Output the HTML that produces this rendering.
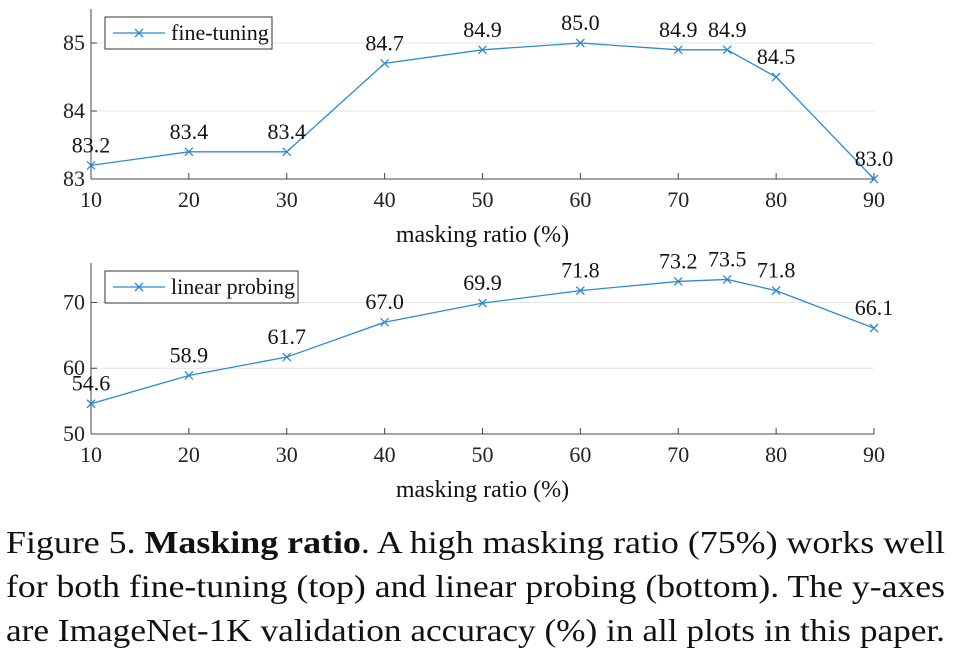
<!DOCTYPE html>
<html><head><meta charset="utf-8"><style>
body{margin:0;background:#fff}
svg, svg text{font-family:"Liberation Serif","Times New Roman",Times,serif}
</style></head><body>
<svg id="fig" width="953" height="652" viewBox="0 0 953 652" xmlns="http://www.w3.org/2000/svg" font-family="Liberation Serif, Times New Roman, serif">
<g id="top"></g>
<g id="bot"></g>
<g font-size="32" fill="#111">
<text x="6" y="553" textLength="939" lengthAdjust="spacingAndGlyphs">Figure 5. <tspan font-weight="bold">Masking ratio</tspan>. A high masking ratio (75%) works well</text>
<text x="6" y="597" textLength="939" lengthAdjust="spacingAndGlyphs">for both fine-tuning (top) and linear probing (bottom). The y-axes</text>
<text x="6" y="641" textLength="939" lengthAdjust="spacingAndGlyphs">are ImageNet-1K validation accuracy (%) in all plots in this paper.</text>
</g>
</svg>
<script>
const xRatios=[10,20,30,40,50,60,70,75,80,90];
const xTicks=[10,20,30,40,50,60,70,80,90];
const fineTuning=[83.2,83.4,83.4,84.7,84.9,85.0,84.9,84.9,84.5,83.0];
const fineTicks=[83,84,85];
const linearProbing=[54.6,58.9,61.7,67.0,69.9,71.8,73.2,73.5,71.8,66.1];
const linearTicks=[50,60,70];
const NS='http://www.w3.org/2000/svg';
const C='#2b8bd2';
function mk(p,t,a){const e=document.createElementNS(NS,t);for(const k in a)e.setAttribute(k,a[k]);p.appendChild(e);return e;}
function chart(g,vals,ticks,ymin,ymax,top,bot,label,lw){
  const L=91,R=874;
  const sx=v=>L+(v-10)/80*(R-L);
  const sy=v=>bot-(v-ymin)/(ymax-ymin)*(bot-top);
  ticks.forEach(t=>{
    const gl=mk(g,'line',{x1:L,x2:R,y1:sy(t),y2:sy(t),stroke:'#e3e3e3','stroke-width':1});
    
    
    mk(g,'line',{x1:L,x2:L+6,y1:sy(t),y2:sy(t),stroke:'#444'});
    const tx=mk(g,'text',{x:L-6,y:sy(t)+7,'text-anchor':'end','font-size':22,fill:'#222'});
    tx.textContent=t;
    
    
  });
  mk(g,'line',{x1:L,x2:L,y1:top,y2:bot,stroke:'#444'});
  mk(g,'line',{x1:L,x2:R,y1:bot,y2:bot,stroke:'#444'});
  xTicks.forEach(t=>{
    mk(g,'line',{x1:sx(t),x2:sx(t),y1:bot,y2:bot-6,stroke:'#444'});
    const tx=mk(g,'text',{x:sx(t),y:bot+28,'text-anchor':'middle','font-size':22,fill:'#222'});
    tx.textContent=t;
    
    
  });
  const xl=mk(g,'text',{x:(L+R)/2,y:bot+63,'text-anchor':'middle','font-size':24,fill:'#111'});
  xl.textContent='masking ratio (%)';
  
  
  const pl=mk(g,'polyline',{points:vals.map((v,i)=>sx(xRatios[i])+','+sy(v)).join(' '),fill:'none',stroke:C,'stroke-width':1.3});
  
  
  vals.forEach((v,i)=>{
    const x=sx(xRatios[i]),y=sy(v);
    const m=mk(g,'path',{d:`M${x-4},${y-4}L${x+4},${y+4}M${x-4},${y+4}L${x+4},${y-4}`,stroke:C,'stroke-width':1.3});
    
    
    const t=mk(g,'text',{x:x,y:y-13,'text-anchor':'middle','font-size':22,fill:'#111'});
    t.textContent=v.toFixed(1);
    
    
  });
  const lg=mk(g,'g',{});
  
  
  mk(lg,'rect',{x:105,y:top+8,width:lw,height:32,fill:'#fff',stroke:'#333'});
  mk(lg,'line',{x1:113,x2:165,y1:top+24,y2:top+24,stroke:C,'stroke-width':1.3});
  mk(lg,'path',{d:`M${139-4},${top+20}L${139+4},${top+28}M${139-4},${top+28}L${139+4},${top+20}`,stroke:C,'stroke-width':1.3});
  const lt=mk(lg,'text',{x:171,y:top+31,'font-size':22,fill:'#111'});
  lt.textContent=label;
}
chart(document.getElementById('top'),fineTuning,fineTicks,83,85.5,9,179,'fine-tuning',167);
chart(document.getElementById('bot'),linearProbing,linearTicks,50,76,263,434,'linear probing',193);
</script>
</body></html>
